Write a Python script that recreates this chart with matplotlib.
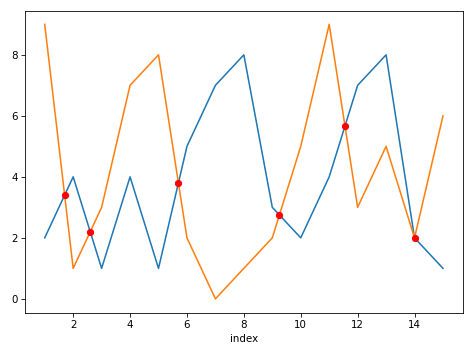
import numpy as np
import pandas as pd
import matplotlib
matplotlib.use("Agg")
import matplotlib.pyplot as plt

index = [1, 2, 3, 4, 5, 6, 7, 8, 9, 10, 11, 12, 13, 14, 15]
series_a = [2, 4, 1, 4, 1, 5, 7, 8, 3, 2, 4, 7, 8, 2, 1]
series_b = [9, 1, 3, 7, 8, 2, 0, 1, 2, 5, 9, 3, 5, 2, 6]

df = pd.DataFrame({"a": series_a, "b": series_b}, index=pd.Index(index, name="index"))

# intersections computed from the data
xs, ys = [], []
x = np.array(index, dtype=float)
a = np.array(series_a, dtype=float)
b = np.array(series_b, dtype=float)
d = a - b
for i in range(len(x) - 1):
    if d[i] == 0:
        xs.append(x[i]); ys.append(a[i])
    elif d[i] * d[i + 1] < 0:
        t = d[i] / (d[i] - d[i + 1])
        xs.append(x[i] + t * (x[i + 1] - x[i]))
        ys.append(a[i] + t * (a[i + 1] - a[i]))
if d[-1] == 0:
    xs.append(x[-1]); ys.append(a[-1])

fig, ax = plt.subplots(figsize=(6.4, 4.8), dpi=74.0625)
df.plot(ax=ax, legend=False)
ax.plot(xs, ys, "o", color="red", markersize=6)
ax.set_xlabel("index")
fig.tight_layout()
fig.savefig("out.png", dpi=74.0625)
